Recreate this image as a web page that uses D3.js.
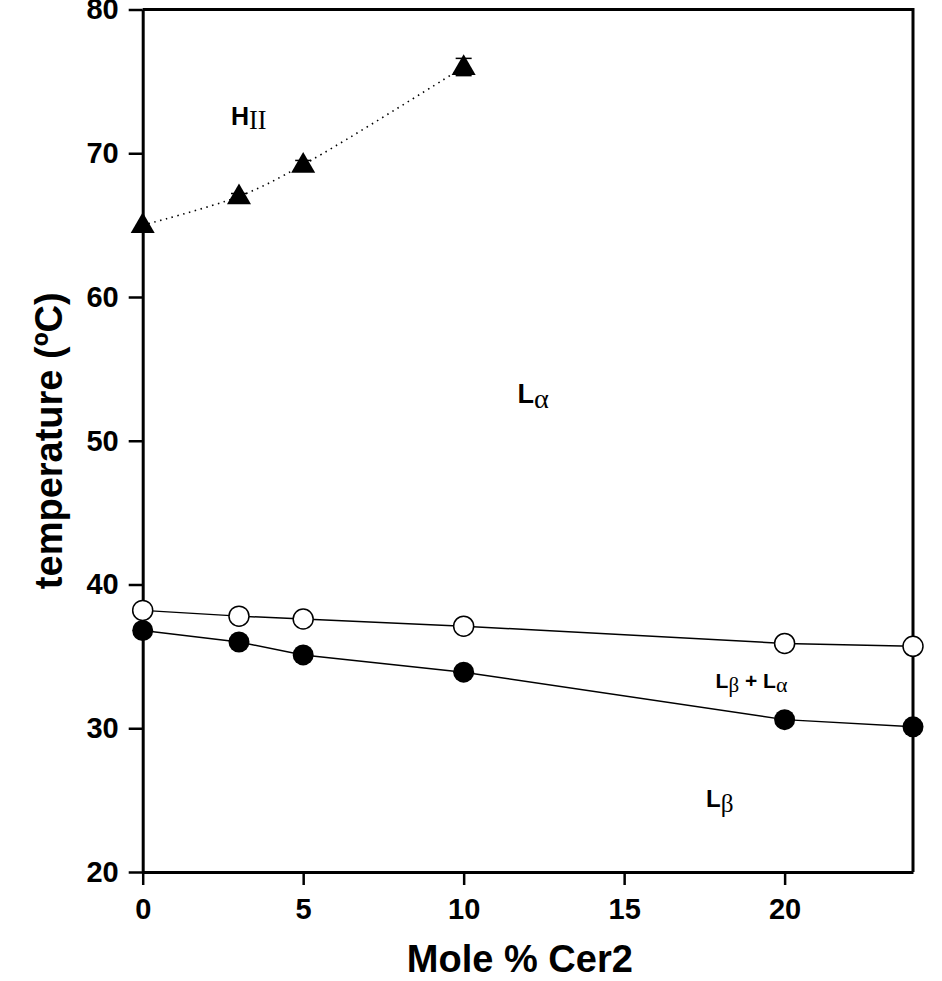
<!DOCTYPE html>
<html>
<head>
<meta charset="utf-8">
<script src="https://cdn.jsdelivr.net/npm/d3@7"></script>
<style>
  body { margin: 0; background: #fff; }
  svg { display: block; }
</style>
</head>
<body>
<svg width="942" height="981"></svg>
<script>
// data
const cer2 = [0, 3, 5, 10, 20, 24];
const onsetTemp = [36.8, 36.0, 35.1, 33.9, 30.6, 30.1];   // filled circles
const completionTemp = [38.2, 37.8, 37.6, 37.1, 35.9, 35.7]; // open circles
const hexCer2 = [0, 3, 5, 10];
const hexTemp = [65.0, 67.0, 69.2, 76.0];                 // triangles
const hexErr = [0, 0.2, 0.3, 0.6];
const xTicks = [0, 5, 10, 15, 20];
const yTicks = [20, 30, 40, 50, 60, 70, 80];
const phaseLabels = [
  { main: "H", sub: "II", x: 2.75, y: 72.0, size: 25 },
  { main: "L", sub: "\u03b1", x: 11.68, y: 52.6, size: 27 },
  { main: "L", sub: "\u03b2", x: 17.55, y: 24.5, size: 24 },
];

const svg = d3.select("svg");
const margin = { left: 142.7, right: 29, top: 9.5, bottom: 109 };
const W = 942, H = 981;

const x = d3.scaleLinear().domain([0, 24]).range([margin.left, W - margin.right]);
const y = d3.scaleLinear().domain([20, 80]).range([H - margin.bottom, margin.top]);

const sans = "'Liberation Sans', Arial, sans-serif";
const serif = "'Liberation Serif', 'Times New Roman', serif";

// frame (top + right)
svg.append("path")
  .attr("d", `M${x(0)},${y(80)}H${x(24)}V${y(20)}`)
  .attr("fill", "none").attr("stroke", "#000").attr("stroke-width", 3);

// axes
const xAxis = svg.append("g")
  .attr("transform", `translate(0,${y(20)})`)
  .call(d3.axisBottom(x).tickValues(xTicks).tickSize(13).tickPadding(14).tickSizeOuter(0));
const yAxis = svg.append("g")
  .attr("transform", `translate(${x(0)},0)`)
  .call(d3.axisLeft(y).tickValues(yTicks).tickSize(14).tickPadding(10).tickSizeOuter(0));

[xAxis, yAxis].forEach((g) => {
  g.select(".domain").attr("stroke-width", 3);
  g.selectAll(".tick line").attr("stroke-width", 2.5);
  g.selectAll(".tick text")
    .attr("font-family", sans).attr("font-weight", "bold")
    .attr("font-size", 29).attr("fill", "#000");
});
xAxis.selectAll(".tick text").attr("dy", "0.68em");

// axis titles
svg.append("text")
  .attr("x", (x(0) + x(24)) / 2 - 8).attr("y", 972)
  .attr("text-anchor", "middle")
  .attr("font-family", sans).attr("font-weight", "bold").attr("font-size", 38)
  .text("Mole % Cer2");

svg.append("text")
  .attr("transform", `translate(62,${(y(20) + y(80)) / 2}) rotate(-90)`)
  .attr("text-anchor", "middle")
  .attr("font-family", sans).attr("font-weight", "bold").attr("font-size", 38)
  .text("temperature (\u00baC)");

// lines
const line = d3.line().x((d) => x(d[0])).y((d) => y(d[1]));
svg.append("path")
  .datum(d3.zip(cer2, completionTemp))
  .attr("d", line).attr("fill", "none").attr("stroke", "#000").attr("stroke-width", 1.5);
svg.append("path")
  .datum(d3.zip(cer2, onsetTemp))
  .attr("d", line).attr("fill", "none").attr("stroke", "#000").attr("stroke-width", 1.5);
svg.append("path")
  .datum(d3.zip(hexCer2, hexTemp))
  .attr("d", line.curve(d3.curveCatmullRom))
  .attr("fill", "none").attr("stroke", "#000").attr("stroke-width", 1.6)
  .attr("stroke-dasharray", "1.5,4.5");

// markers
svg.append("g").selectAll("circle")
  .data(d3.zip(cer2, completionTemp))
  .join("circle")
  .attr("cx", (d) => x(d[0])).attr("cy", (d) => y(d[1])).attr("r", 10)
  .attr("fill", "#fff").attr("stroke", "#000").attr("stroke-width", 1.5);

svg.append("g").selectAll("circle")
  .data(d3.zip(cer2, onsetTemp))
  .join("circle")
  .attr("cx", (d) => x(d[0])).attr("cy", (d) => y(d[1])).attr("r", 10.5)
  .attr("fill", "#000");

const tri = d3.symbol().type(d3.symbolTriangle).size(250);
svg.append("g").selectAll("path")
  .data(d3.zip(hexCer2, hexTemp))
  .join("path")
  .attr("transform", (d) => `translate(${x(d[0])},${y(d[1]) + 1})`)
  .attr("d", tri).attr("fill", "#000");

// error bar caps on triangles
const caps = svg.append("g").attr("stroke", "#000").attr("stroke-width", 1.5);
d3.zip(hexCer2, hexTemp, hexErr).filter((d) => d[2] > 0).forEach((d) => {
  [d[1] - d[2], d[1] + d[2]].forEach((v) => {
    caps.append("line")
      .attr("x1", x(d[0]) - 8).attr("x2", x(d[0]) + 8)
      .attr("y1", y(v)).attr("y2", y(v));
  });
});

// phase labels
phaseLabels.forEach((p) => {
  const t = svg.append("text")
    .attr("x", x(p.x)).attr("y", y(p.y))
    .attr("font-size", p.size);
  t.append("tspan").attr("font-family", sans).attr("font-weight", "bold").text(p.main);
  t.append("tspan").attr("font-family", serif).attr("font-size", p.size * 1.05)
    .attr("dy", p.size * 0.18).text(p.sub);
});

// two-phase label
const two = svg.append("text")
  .attr("x", x(17.85)).attr("y", y(32.8)).attr("font-size", 21);
two.append("tspan").attr("font-family", sans).attr("font-weight", "bold").text("L");
two.append("tspan").attr("font-family", serif).attr("dy", 4).text("\u03b2");
two.append("tspan").attr("font-family", sans).attr("font-weight", "bold").attr("dy", -4).text(" + L");
two.append("tspan").attr("font-family", serif).attr("dy", 4).attr("font-size", 22).text("\u03b1");
</script>
</body>
</html>
